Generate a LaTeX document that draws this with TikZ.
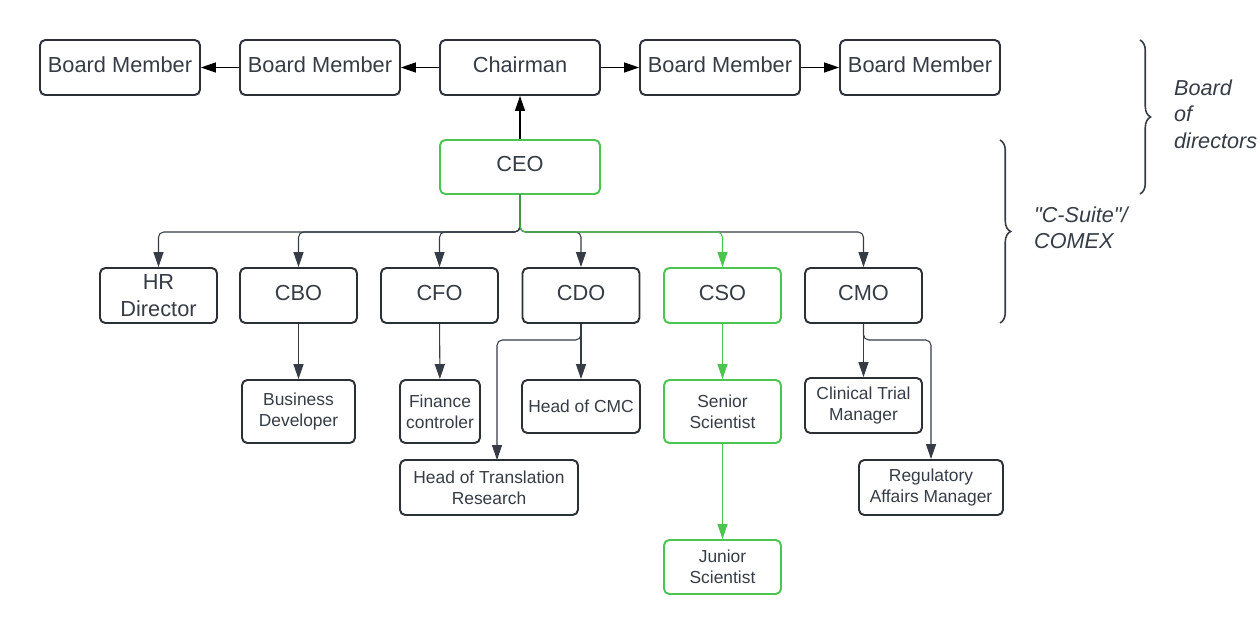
\documentclass[tikz,border=0pt]{standalone}
\usepackage{fontspec}
\setmainfont{Liberation Sans}[Ligatures=TeXOff]
\usetikzlibrary{arrows.meta,decorations.pathreplacing}
\definecolor{ink}{HTML}{363C45}
\definecolor{edge}{HTML}{2B2F36}
\definecolor{leaf}{HTML}{4CC452}
\tikzset{
  box/.style={draw=edge, line width=1.1pt, rounded corners=3pt, text=ink, align=center, inner sep=1pt},
  greenbox/.style={box, draw=leaf},
  big/.style={font=\fontsize{12.4}{15.3}\selectfont},
  lift/.style={text depth=3.5pt},
  small/.style={font=\fontsize{9.9}{11.9}\selectfont},
  toplink/.style={black, line width=0.7pt, -{Triangle[length=8.5pt,width=5.7pt]}},
  link/.style={ink, line width=0.6pt, rounded corners=3pt, -{Triangle[length=8.5pt,width=5.7pt]}},
  greenlink/.style={link, leaf},
  bracket/.style={ink, line width=0.9pt, decorate, decoration={brace, amplitude=6pt}},
  tag/.style={text=ink, align=left, font=\fontsize{12.3}{15}\selectfont\itshape}
}
\begin{document}
\begin{tikzpicture}[x=0.02cm, y=-0.02cm]
\useasboundingbox (0,0) rectangle (1260,634);

\node[box, big, lift, minimum width=3.2cm, minimum height=1.1cm] (bm1) at (120,67.5) {Board Member};
\node[box, big, lift, minimum width=3.2cm, minimum height=1.1cm] (bm2) at (320,67.5) {Board Member};
\node[box, big, lift, minimum width=3.2cm, minimum height=1.1cm] (chair) at (520,67.5) {Chairman};
\node[box, big, lift, minimum width=3.2cm, minimum height=1.1cm] (bm3) at (720,67.5) {Board Member};
\node[box, big, lift, minimum width=3.2cm, minimum height=1.1cm] (bm4) at (920,67.5) {Board Member};
\node[greenbox, big, lift, minimum width=3.2cm, minimum height=1.08cm] (ceo) at (520,167) {CEO};

\node[box, big, minimum width=2.34cm, minimum height=1.1cm] (hr) at (158.5,295.5) {HR\\Director};
\node[box, big, lift, minimum width=2.34cm, minimum height=1.1cm] (cbo) at (298.5,295.5) {CBO};
\node[box, big, lift, minimum width=2.34cm, minimum height=1.1cm] (cfo) at (439.5,295.5) {CFO};
\node[box, big, lift, minimum width=2.34cm, minimum height=1.1cm] (cdo) at (581,295.5) {CDO};
\node[greenbox, big, lift, minimum width=2.34cm, minimum height=1.1cm] (cso) at (722.5,295.5) {CSO};
\node[box, big, lift, minimum width=2.34cm, minimum height=1.1cm] (cmo) at (863.5,295.5) {CMO};

\node[box, small, minimum width=2.26cm, minimum height=1.26cm] (bizdev) at (298.5,411.5) {Business\\Developer};
\node[box, small, minimum width=1.6cm, minimum height=1.26cm] (fincon) at (440,411.5) {Finance\\controler};
\node[box, small, minimum width=2.36cm, minimum height=1.06cm] (cmc) at (581,406.5) {Head of CMC};
\node[greenbox, small, minimum width=2.34cm, minimum height=1.26cm] (senior) at (722.5,411.5) {Senior\\Scientist};
\node[box, small, minimum width=2.34cm, minimum height=1.1cm] (clinic) at (863.5,405.5) {Clinical Trial\\Manager};
\node[box, small, minimum width=3.56cm, minimum height=1.1cm] (transl) at (489,487.5) {Head of Translation\\Research};
\node[box, small, minimum width=2.88cm, minimum height=1.1cm] (regaff) at (931,487.5) {Regulatory\\Affairs Manager};
\node[greenbox, small, minimum width=2.34cm, minimum height=1.08cm] (junior) at (722.5,567) {Junior\\Scientist};

\coordinate (bus) at (520,232);
\coordinate (cdosplit) at (581,340);
\coordinate (cmosplit) at (863.5,340);
\coordinate (translin) at (497,460);

\draw[toplink] (chair) -- (bm2);
\draw[toplink] (bm2) -- (bm1);
\draw[toplink] (chair) -- (bm3);
\draw[toplink] (bm3) -- (bm4);
\draw[toplink] (ceo) -- (chair);

\foreach \kid in {hr,cbo,cfo,cdo,cmo}
  \draw[link] (ceo.south) -- (bus) -| (\kid.north);
\draw[greenlink] (ceo.south) -- (bus) -| (cso.north);

\draw[link] (cbo) -- (bizdev);
\draw[link] (cfo) -- (fincon);
\draw[link] (cdo) -- (cmc);
\draw[link] (cdo.south) -- (cdosplit) -| (translin);
\draw[link] (cmo) -- (clinic);
\draw[link] (cmo.south) -- (cmosplit) -| (regaff.north);
\draw[greenlink] (cso) -- (senior);
\draw[greenlink] (senior) -- (junior);

\draw[bracket] (1140,40) -- (1140,194);
\draw[bracket] (1000,140) -- (1000,323);
\node[tag, anchor=west] (board) at (1168,114) {Board\\of\\directors};
\node[tag, anchor=west] (comex) at (1028,228) {"C-Suite"/\\COMEX};
\end{tikzpicture}
\end{document}
